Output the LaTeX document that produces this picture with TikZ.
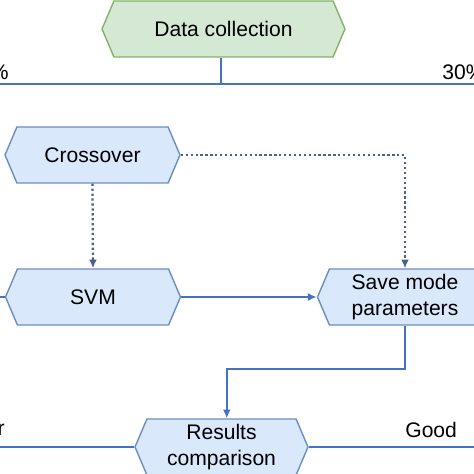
\documentclass[tikz,border=0pt]{standalone}
\usepackage{fontspec}
\setmainfont{Liberation Sans}
\usepackage{tikz}
\usetikzlibrary{arrows.meta,shapes.symbols}
\definecolor{boxblue}{RGB}{218,232,252}
\definecolor{edgeblue}{RGB}{108,142,191}
\definecolor{boxgreen}{RGB}{213,232,212}
\definecolor{edgegreen}{RGB}{130,179,102}
\definecolor{flowblue}{RGB}{68,114,196}
\definecolor{dotblue}{RGB}{77,95,140}

\begin{document}
\begin{tikzpicture}[x=0.02cm,y=-0.02cm,
    hexbox/.style={shape=signal, signal to=west and east, signal pointer angle=134,
        draw=edgeblue, fill=boxblue, line width=0.8pt, minimum width=3.5cm,
        minimum height=1.12cm, inner sep=0pt, align=center,
        font=\fontsize{12}{15.3}\selectfont},
    flow/.style={draw=flowblue, line width=1.1pt},
    hint/.style={draw=dotblue, line width=1.3pt, dash pattern=on 1.3pt off 1.5pt},
    tip/.style={-{Latex[length=5pt,width=4.5pt]}},
    lbl/.style={font=\fontsize{12}{15}\selectfont, inner sep=0pt}]
    \useasboundingbox (0,0) rectangle (474,474);
    \node [hexbox, draw=edgegreen, fill=boxgreen, minimum width=4.86cm] (collect) at (223.5,29) {Data collection};
    \node [hexbox] (cross) at (92.5,155) {Crossover};
    \node [hexbox] (svm) at (93,297) {SVM};
    \node [hexbox] (save) at (405,297) {Save mode\\parameters};
    \node [hexbox, minimum width=3.46cm] (result) at (221.5,447) {Results\\comparison};
    % split line
    \coordinate (splitL) at (0,84);
    \coordinate (splitR) at (474,84);
    \draw [flow] ([xshift=-1.5]collect.south) -- ([xshift=-1.5]collect.south |- splitL);
    \draw [flow] (splitL) -- (splitR);
    \node [lbl, anchor=base east] (pctL) at (9,79) {\%};
    \node [lbl, anchor=base west] (pctR) at (442,79) {30\%};
    % dotted links
    \draw [hint, tip] (cross.east) -| (save.north);
    \draw [hint, tip] (cross.south) -- (svm.north);
    % solid links
    \coordinate (inL) at (0,297);
    \draw [flow] (inL) -- (svm.west);
    \draw [flow, tip] (svm.east) -- (save.west);
    \coordinate (bend) at (405,369);
    \draw [flow, tip] (save.south) -- (bend) -| ([xshift=3]result.north);
    \coordinate (outL) at (0,447);
    \coordinate (outR) at (474,447);
    \draw [flow] (result.west) -- (outL);
    \draw [flow] (result.east) -- (outR);
    \node [lbl, anchor=base east] (poor) at (5,435) {r};
    \node [lbl, anchor=base west] (good) at (405,437) {Good};
\end{tikzpicture}
\end{document}
